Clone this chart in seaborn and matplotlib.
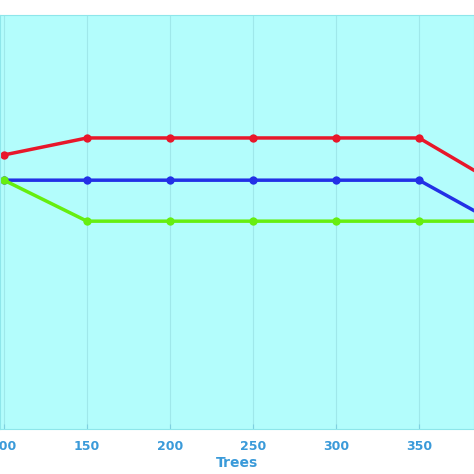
import matplotlib
matplotlib.use("Agg")
import matplotlib.pyplot as plt
import seaborn as sns
import pandas as pd

trees = [100, 150, 200, 250, 300, 350, 400]
red_vals = [0.662, 0.703, 0.703, 0.703, 0.703, 0.703, 0.585]
blue_vals = [0.601, 0.601, 0.601, 0.601, 0.601, 0.601, 0.490]
green_vals = [0.601, 0.502, 0.502, 0.502, 0.502, 0.502, 0.502]

df = pd.DataFrame({"Trees": trees * 3,
                   "value": red_vals + blue_vals + green_vals,
                   "series": ["red"] * 7 + ["blue"] * 7 + ["green"] * 7})

fig = plt.figure(figsize=(4.74, 4.74), dpi=100)
ax = fig.add_axes([0, 1 - 429 / 474, 1, 414 / 474])
ax.set_facecolor("#b3fdfc")
palette = {"red": "#e8172a", "blue": "#2330e6", "green": "#66ee10"}
sns.lineplot(data=df, x="Trees", y="value", hue="series", palette=palette,
             marker="o", markersize=6, markeredgewidth=0, linewidth=2.5,
             legend=False, ax=ax)
ax.set_xlim(97.6, 383.1)
ax.set_ylim(0, 1)
ax.set_xticks([100, 150, 200, 250, 300, 350])
ax.set_xticklabels(["100", "150", "200", "250", "300", "350"])
ax.set_yticks([])
ax.grid(axis="x", color="#9fe8ea", linewidth=0.8)
ax.tick_params(axis="x", direction="in", colors="#7fd0e0", labelcolor="#3a9ad9",
               labelsize=9, pad=8)
for lab in ax.get_xticklabels():
    lab.set_fontweight("bold")
ax.set_xlabel("Trees", color="#3a9ad9", fontsize=10, fontweight="bold", labelpad=2)
ax.set_ylabel("")
for s in ax.spines.values():
    s.set_color("#8ee6ea")
fig.savefig("out.png", dpi=100)
